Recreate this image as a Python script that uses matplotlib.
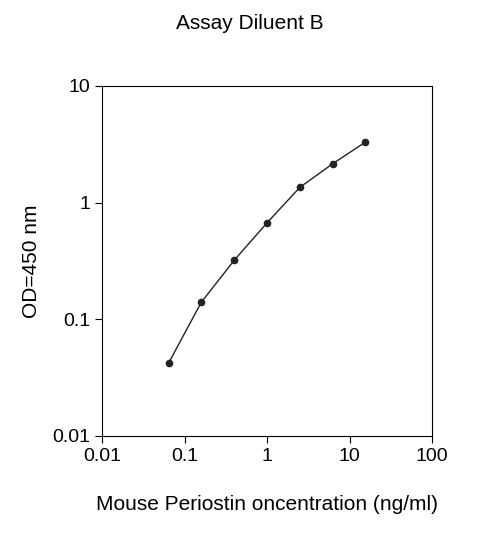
import matplotlib
matplotlib.use("Agg")
import matplotlib.pyplot as plt
from matplotlib.ticker import FixedLocator, FixedFormatter, NullLocator

plt.rcParams['font.family'] = ['Liberation Sans', 'DejaVu Sans']

# concentration (ng/ml) vs OD450
conc = [0.064, 0.16, 0.4, 1.0, 2.5, 6.25, 15.6]
od = [0.042, 0.14, 0.32, 0.67, 1.35, 2.15, 3.3]

xticks = [0.01, 0.1, 1, 10, 100]
xlabels = ["0.01", "0.1", "1", "10", "100"]
yticks = [0.01, 0.1, 1, 10]
ylabels = ["0.01", "0.1", "1", "10"]

fig = plt.figure(figsize=(5, 5.47), dpi=100)
ax = fig.add_axes([0.204, 0.203, 0.66, 0.64])
ax.plot(conc, od, color="#222222", lw=1, marker="o", ms=4.5)
ax.set_xscale("log")
ax.set_yscale("log")
ax.set_xlim(0.01, 100)
ax.set_ylim(0.01, 10)
ax.xaxis.set_major_locator(FixedLocator(xticks))
ax.xaxis.set_major_formatter(FixedFormatter(xlabels))
ax.yaxis.set_major_locator(FixedLocator(yticks))
ax.yaxis.set_major_formatter(FixedFormatter(ylabels))
ax.xaxis.set_minor_locator(NullLocator())
ax.yaxis.set_minor_locator(NullLocator())
ax.tick_params(labelsize=14, direction="out", length=5)
ax.set_xlabel("Mouse Periostin oncentration (ng/ml)", fontsize=15, labelpad=22)
ax.set_ylabel("OD=450 nm", fontsize=15, labelpad=8)
fig.suptitle("Assay Diluent B", fontsize=15, y=0.975)
fig.savefig("out.png")
